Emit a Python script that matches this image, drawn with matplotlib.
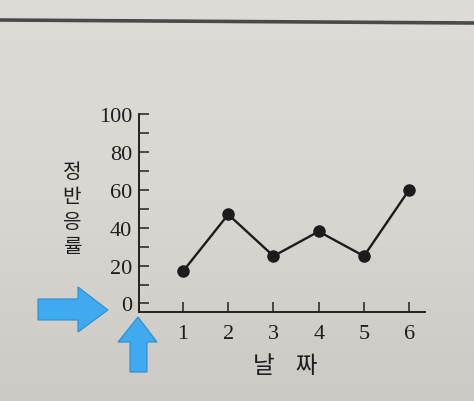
import matplotlib
matplotlib.use("Agg")
import matplotlib.pyplot as plt
from matplotlib.patches import Polygon
from matplotlib.colors import LinearSegmentedColormap
import numpy as np

days = [1, 2, 3, 4, 5, 6]
rates = [17, 47, 25, 38, 25, 60]
yticks = [0, 20, 40, 60, 80, 100]
xlabel = "날    짜"
ylabel_chars = "정반응률"

W, H = 474, 402
fig = plt.figure(figsize=(W / 100, H / 100), dpi=100)
bg = "#d9d6d1"
fig.patch.set_facecolor(bg)

# subtle paper gradient
grad = np.linspace(0, 1, 256).reshape(-1, 1)
bgax = fig.add_axes([0, 0, 1, 1], zorder=-10)
cmap = LinearSegmentedColormap.from_list("paper", ["#cdcac5", "#dad7d2", "#dfdcd8"])
bgax.imshow(grad, aspect="auto", cmap=cmap, origin="lower", extent=[0, 1, 0, 1])
bgax.axis("off")

def fx(x):
    return x / W

def fy(y):
    return (H - y) / H

# dark rule at top of page
fig.add_artist(plt.Line2D([0, 1], [fy(21), fy(24)], color="#4a4a4a", lw=2.6,
                          transform=fig.transFigure))

ax = fig.add_axes([fx(139), fy(313), fx(425) - fx(139), fy(115) - fy(313)])
ax.set_facecolor("none")
ax.set_xlim(0.027, 6.35)
ax.set_ylim(-4.5, 100)

ax.plot(days, rates, color="#1c1c1c", lw=1.7, marker="o", markersize=8,
        markerfacecolor="#1c1c1c", markeredgecolor="#1c1c1c", zorder=3)

for s in ["top", "right"]:
    ax.spines[s].set_visible(False)
for s in ["left", "bottom"]:
    ax.spines[s].set_color("#222222")
    ax.spines[s].set_linewidth(1.4)

serif = ["Liberation Serif", "DejaVu Serif"]
ax.set_yticks(yticks)
ax.set_yticks(range(10, 100, 20), minor=True)
ax.set_yticklabels([str(v) for v in yticks], fontfamily=serif, fontsize=16, color="#1e1e1e")
ax.set_xticks(days)
ax.set_xticklabels([str(d) for d in days], fontfamily=serif, fontsize=16, color="#1e1e1e")
ax.tick_params(axis="y", which="both", direction="in", length=7, width=1.1,
               color="#222222", pad=5)
ax.tick_params(axis="x", which="major", direction="in", length=7, width=1.1,
               color="#222222", pad=9)

# y label: vertical stacked Korean characters
for i, ch in enumerate(ylabel_chars):
    fig.text(fx(72), fy(173 + 25 * i), ch, ha="center", va="center",
             fontsize=14.5, fontweight="medium",
             family=["Noto Sans CJK KR", "DejaVu Sans"], color="#1e1e1e")

fig.text(fx(285), fy(367), xlabel, ha="center", va="center", fontsize=17,
         family=["Noto Sans CJK KR", "DejaVu Sans"], color="#1e1e1e")

# blue arrows
blue = "#3faaf0"
edge = "#2a8fd0"
right_arrow = [(38, 300), (78, 300), (78, 288), (108, 311), (78, 333), (78, 321), (38, 321)]
up_arrow = [(130, 373), (130, 343), (118, 343), (138, 318), (157, 343), (147, 343), (147, 373)]
for pts in (right_arrow, up_arrow):
    poly = Polygon([(fx(x), fy(y)) for x, y in pts], closed=True,
                   facecolor=blue, edgecolor=edge, lw=0.8, transform=fig.transFigure)
    fig.add_artist(poly)

fig.savefig("out.png", dpi=100, facecolor=fig.get_facecolor())
